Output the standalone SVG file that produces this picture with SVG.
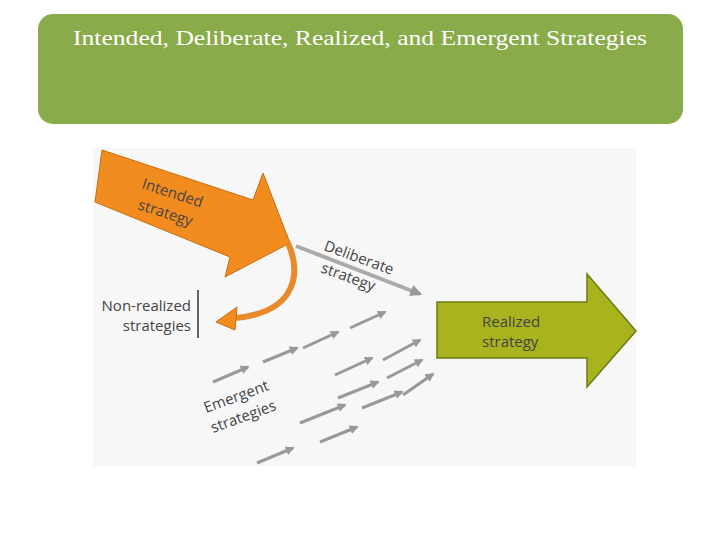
<svg xmlns="http://www.w3.org/2000/svg" width="720" height="540" viewBox="0 0 720 540">
<defs>
<style>
.lbl{font-family:"Open Sans","DejaVu Sans",sans-serif;font-size:15px;fill:#444}
.em{stroke:#999;stroke-width:3;fill:none;marker-end:url(#ah)}
</style>
<marker id="ah" viewBox="0 0 10 10" refX="8" refY="5" markerWidth="3" markerHeight="3" orient="auto"><path d="M0,0L10,5L0,10z" fill="#999"/></marker>
</defs>
<rect width="720" height="540" fill="#fff"/>
<g id="title">
<rect x="38" y="14" width="645" height="110" rx="15" fill="#8aab4a"/>
<text x="73" y="45" textLength="574" lengthAdjust="spacingAndGlyphs" font-family="Liberation Serif,serif" font-size="21" fill="#fff">Intended, Deliberate, Realized, and Emergent Strategies</text>
</g>
<rect x="93" y="148" width="543" height="318" fill="#f7f7f7"/>
<g id="intended">
<polygon points="102,150 253,200 263,173 290,243 225,277 230,257 95,202" fill="#f28c1f" stroke="#c86d10" stroke-width="1"/>
<text class="lbl" transform="translate(141,188) rotate(18)">Intended</text>
<text class="lbl" transform="translate(137,209) rotate(18)">strategy</text>
</g>
<g id="connectors">
<path d="M288,243 C300,270 300,312 235,318" fill="none" stroke="#e88a2a" stroke-width="6"/>
<polygon points="237,307 216,322 235,330" fill="#f28c1f" stroke="#c86d10"/>
<line x1="296" y1="246" x2="420" y2="294" stroke="#aaa" stroke-width="4" marker-end="url(#ah)"/>
<line class="em" x1="213" y1="382" x2="248" y2="367"/>
<line class="em" x1="263" y1="362" x2="297" y2="348"/>
<line class="em" x1="303" y1="348" x2="338" y2="332"/>
<line class="em" x1="350" y1="328" x2="385" y2="312"/>
<line class="em" x1="335" y1="375" x2="372" y2="358"/>
<line class="em" x1="383" y1="360" x2="420" y2="340"/>
<line class="em" x1="338" y1="398" x2="378" y2="382"/>
<line class="em" x1="387" y1="378" x2="422" y2="360"/>
<line class="em" x1="300" y1="423" x2="345" y2="405"/>
<line class="em" x1="362" y1="408" x2="402" y2="392"/>
<line class="em" x1="403" y1="395" x2="433" y2="374"/>
<line class="em" x1="320" y1="442" x2="357" y2="427"/>
<line class="em" x1="257" y1="463" x2="293" y2="448"/>
</g>
<g id="deliberate">
<text class="lbl" transform="translate(323,250) rotate(20)">Deliberate</text>
<text class="lbl" transform="translate(320,272) rotate(20)">strategy</text>
</g>
<g id="nonrealized">
<text class="lbl" x="191" y="311" text-anchor="end">Non-realized</text>
<text class="lbl" x="191" y="331" text-anchor="end">strategies</text>
<line x1="198" y1="290" x2="198" y2="338" stroke="#333" stroke-width="1.5"/>
</g>
<g id="emergent">
<text class="lbl" transform="translate(206,413) rotate(-20)">Emergent</text>
<text class="lbl" transform="translate(213,433) rotate(-20)">strategies</text>
</g>
<g id="realized">
<polygon points="437,302 587,302 587,274 636,331 587,387 587,358 437,358" fill="#a8b31e" stroke="#6f7a10" stroke-width="1.5"/>
<text class="lbl" x="482" y="327" fill="#3d4410">Realized</text>
<text class="lbl" x="482" y="347" fill="#3d4410">strategy</text>
</g>
</svg>
